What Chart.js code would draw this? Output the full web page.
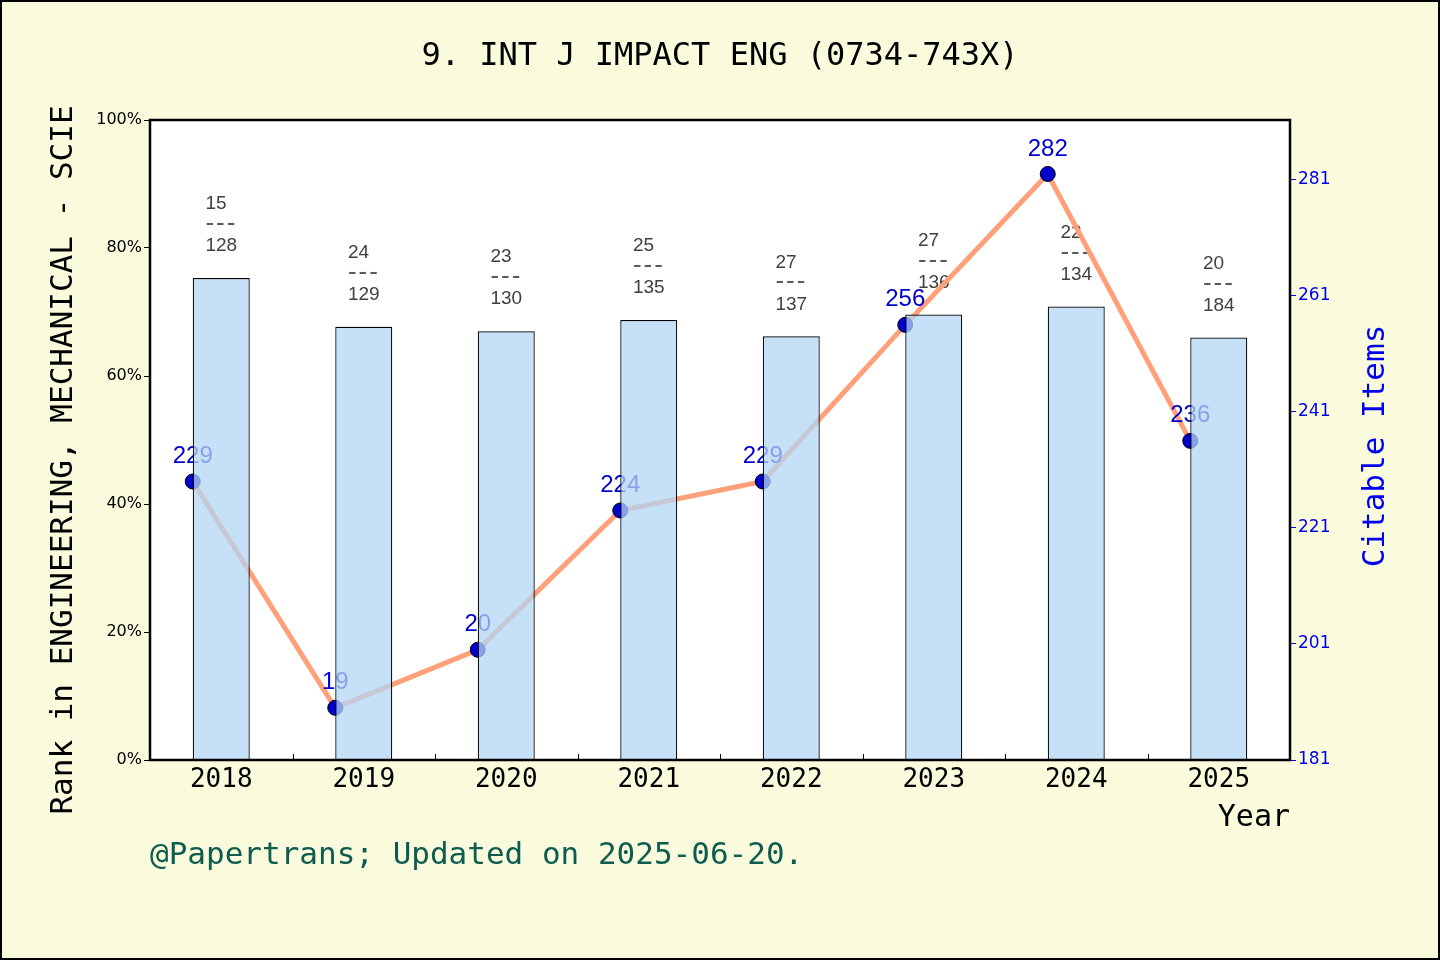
<!DOCTYPE html>
<html><head><meta charset="utf-8">
<script src="https://cdn.jsdelivr.net/npm/chart.js@4.4.1/dist/chart.umd.min.js"></script>
<style>html,body{margin:0;padding:0;background:#FAFADC;}canvas{display:block;}</style>
</head><body>
<canvas id="c" width="1440" height="960"></canvas>
<script>
const years = ['2018','2019','2020','2021','2022','2023','2024','2025'];
const barPercent = [75.3, 67.7, 67.0, 68.75, 66.2, 69.6, 70.85, 66.0];
const rankNumer = [15, 24, 23, 25, 27, 27, 22, 20];
const rankDenom = [128, 129, 130, 135, 137, 136, 134, 184];
const citableItems = [229, 190, 200, 224, 229, 256, 282, 236];
const citableLabels = ['229', '19', '20', '224', '229', '256', '282', '236'];
const leftTicks = [0, 20, 40, 60, 80, 100];
const rightTicks = [181, 201, 221, 241, 261, 281];
const chartTitle = '9. INT J IMPACT ENG (0734-743X)';
const leftTitle = 'Rank in ENGINEERING, MECHANICAL - SCIE';
const rightTitle = 'Citable Items';
const xTitle = 'Year';
const footer = '@Papertrans; Updated on 2025-06-20.';

const MONO = '"DejaVu Sans Mono", monospace';
const SANS = '"Liberation Sans", Arial, sans-serif';
const BG = '#FAFADC';
const lineOffset = -0.2;

const deco = {
  id: 'deco',
  beforeDraw(chart) {
    const {ctx, chartArea: a} = chart;
    ctx.save();
    ctx.fillStyle = BG;
    ctx.fillRect(0, 0, chart.width, chart.height);
    ctx.fillStyle = '#ffffff';
    ctx.fillRect(a.left, a.top, a.right - a.left, a.bottom - a.top);
    ctx.restore();
  },
  beforeDatasetsDraw(chart) {
    const {ctx} = chart;
    const meta = chart.getDatasetMeta(0);
    ctx.save();
    ctx.textBaseline = 'middle';
    ctx.textAlign = 'left';
    meta.data.forEach((bar, i) => {
      ctx.font = '19px ' + SANS;
      ctx.fillStyle = '#404040';
      ctx.letterSpacing = '0px';
      const top = String(rankNumer[i]), bot = String(rankDenom[i]);
      const w = Math.max(ctx.measureText(top).width, ctx.measureText(bot).width);
      const x0 = bar.x - w / 2;
      ctx.fillText(top, x0, bar.y - 74);
      ctx.fillText(bot, x0, bar.y - 32);
      ctx.font = '26px ' + SANS;
      ctx.fillStyle = '#5a5a5a';
      ctx.letterSpacing = '2px';
      ctx.fillText('---', x0, bar.y - 54);
    });
    ctx.restore();
  },
  afterDatasetDraw(chart, args) {
    if (args.index !== 1) return;
    const {ctx} = chart;
    const meta = chart.getDatasetMeta(1);
    ctx.save();
    ctx.font = '24px ' + SANS;
    ctx.fillStyle = '#0000CD';
    ctx.textAlign = 'center';
    ctx.textBaseline = 'middle';
    meta.data.forEach((pt, i) => {
      ctx.fillText(citableLabels[i], pt.x, pt.y - 25);
    });
    ctx.restore();
  },
  afterDatasetsDraw(chart) {
    const {ctx, chartArea: a} = chart;
    const xs = chart.scales.x;
    ctx.save();
    ctx.strokeStyle = '#000';
    ctx.lineWidth = 1;
    ctx.beginPath();
    for (let i = 0; i < years.length - 1; i++) {
      const x = Math.round((xs.getPixelForTick(i) + xs.getPixelForTick(i + 1)) / 2) + 0.5;
      ctx.moveTo(x, a.bottom);
      ctx.lineTo(x, a.bottom - 6);
    }
    ctx.stroke();
    ctx.lineWidth = 2.5;
    ctx.strokeRect(a.left, a.top, a.right - a.left, a.bottom - a.top);
    ctx.restore();
  },
  afterDraw(chart) {
    const {ctx, chartArea: a} = chart;
    ctx.save();
    ctx.textBaseline = 'middle';
    ctx.fillStyle = '#000';
    ctx.font = '32px ' + MONO;
    ctx.textAlign = 'center';
    ctx.fillText(chartTitle, 720, 57);

    ctx.save();
    ctx.translate(64, 460);
    ctx.rotate(-Math.PI / 2);
    ctx.font = '31px ' + MONO;
    ctx.fillText(leftTitle, 0, 0);
    ctx.restore();

    ctx.save();
    ctx.translate(1376, 446);
    ctx.rotate(-Math.PI / 2);
    ctx.font = '31px ' + MONO;
    ctx.fillStyle = '#0000F0';
    ctx.fillText(rightTitle, 0, 0);
    ctx.restore();

    ctx.font = '30px ' + MONO;
    ctx.textAlign = 'right';
    ctx.fillText(xTitle, a.right, 818);

    ctx.textAlign = 'left';
    ctx.fillStyle = '#0D5C4F';
    ctx.font = '31px ' + MONO;
    ctx.fillText(footer, a.left, 856);

    ctx.lineWidth = 2;
    ctx.strokeStyle = '#000';
    ctx.strokeRect(1, 1, chart.width - 2, chart.height - 2);
    ctx.restore();
  }
};

new Chart(document.getElementById('c').getContext('2d'), {
  data: {
    labels: years,
    datasets: [
      {
        type: 'bar', data: barPercent, xAxisID: 'x', yAxisID: 'y', grouped: false,
        backgroundColor: 'rgba(179,213,244,0.75)', borderColor: '#000', borderWidth: 1.2,
        categoryPercentage: 1, barPercentage: 0.4, order: 0
      },
      {
        type: 'line', data: citableItems.map((v, i) => ({x: i + lineOffset, y: v})),
        xAxisID: 'x2', yAxisID: 'y2',
        borderColor: 'rgb(255,160,122)', borderWidth: 5, tension: 0,
        pointRadius: 7.5, pointBackgroundColor: '#0000CD', pointBorderColor: '#000', pointBorderWidth: 1,
        order: 1
      }
    ]
  },
  options: {
    responsive: false, devicePixelRatio: 1, animation: false,
    layout: {padding: {top: 120, left: 0, right: 0, bottom: 0}},
    plugins: {legend: {display: false}, tooltip: {enabled: false}},
    scales: {
      x: {
        type: 'category', position: 'bottom', offset: true,
        grid: {display: false}, border: {display: false},
        ticks: {color: '#000', font: {family: MONO, size: 26}, padding: -3, maxRotation: 0, autoSkip: false},
        afterFit(s) { s.height = 200; }
      },
      x2: {type: 'linear', display: false, min: -0.5, max: 7.5},
      y: {
        type: 'linear', position: 'left', min: 0, max: 100,
        afterBuildTicks(s) { s.ticks = leftTicks.map(v => ({value: v})); },
        ticks: {callback: v => v + '%', color: '#000', font: {family: '"DejaVu Sans", sans-serif', size: 16}, padding: 2},
        grid: {drawOnChartArea: false, drawTicks: true, tickLength: 6, color: '#000'},
        border: {display: false},
        afterFit(s) { s.width = 150; }
      },
      y2: {
        type: 'linear', position: 'right', min: 181, max: 291.3,
        afterBuildTicks(s) { s.ticks = rightTicks.map(v => ({value: v})); },
        ticks: {color: '#0000F0', font: {family: '"DejaVu Sans", sans-serif', size: 17}, padding: 2},
        grid: {drawOnChartArea: false, drawTicks: true, tickLength: 6, color: '#0000F0'},
        border: {display: false},
        afterFit(s) { s.width = 150; }
      }
    }
  },
  plugins: [deco]
});
</script>
</body></html>
